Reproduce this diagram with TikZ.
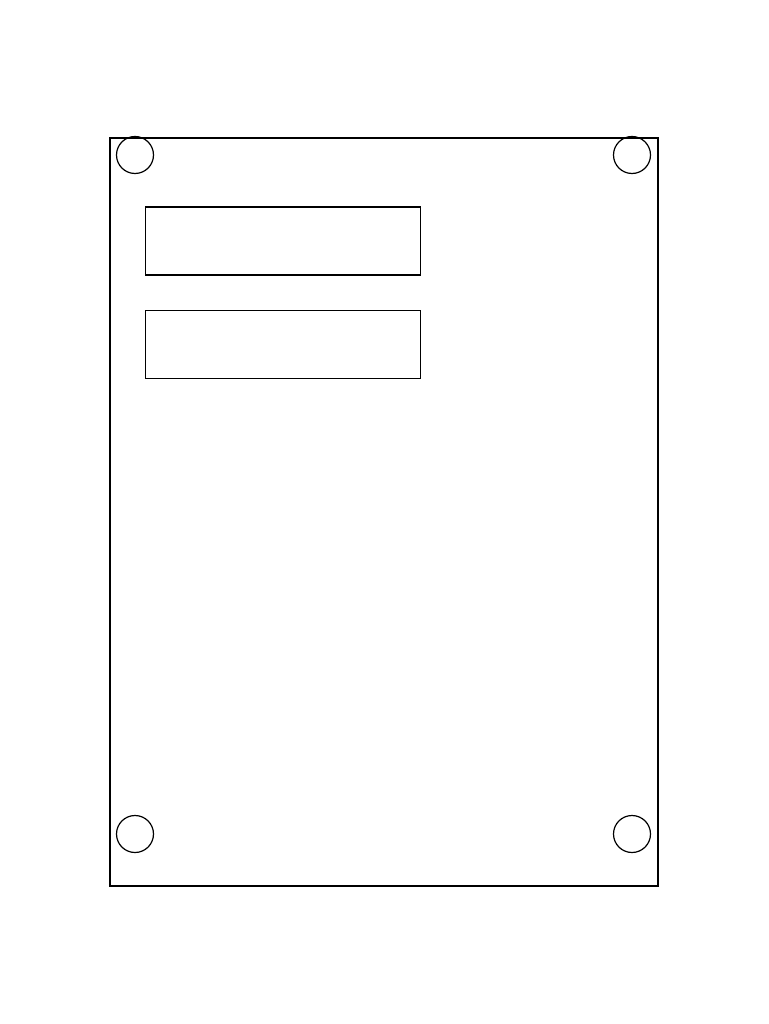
\documentclass[tikz,border=0pt]{standalone}
\usepackage{tikz}
\usetikzlibrary{positioning}

\begin{document}
\begin{tikzpicture}[x=1pt, y=-1pt,
        board/.style = {draw, line width=2pt, inner sep=0pt, minimum width=548pt, minimum height=748pt},
        hole/.style = {draw, circle, line width=1.2pt, inner sep=0pt, minimum size=37pt},
        display/.style = {draw, line width=1.2pt, inner sep=0pt, minimum width=275pt, minimum height=68pt}]
        \useasboundingbox (0,0) rectangle (768,1024);
        \node [board] (pcb) at (384,512) {};
        \node [hole] (holeNW) at (135,155) {};
        \node [hole] (holeNE) at (632,155) {};
        \node [hole] (holeSW) at (135,834) {};
        \node [hole] (holeSE) at (632,834) {};
        \node [display] (lcdA) at (283,241) {};
        \node [display] (lcdB) at (283,344.5) {};
    \end{tikzpicture}
\end{document}
